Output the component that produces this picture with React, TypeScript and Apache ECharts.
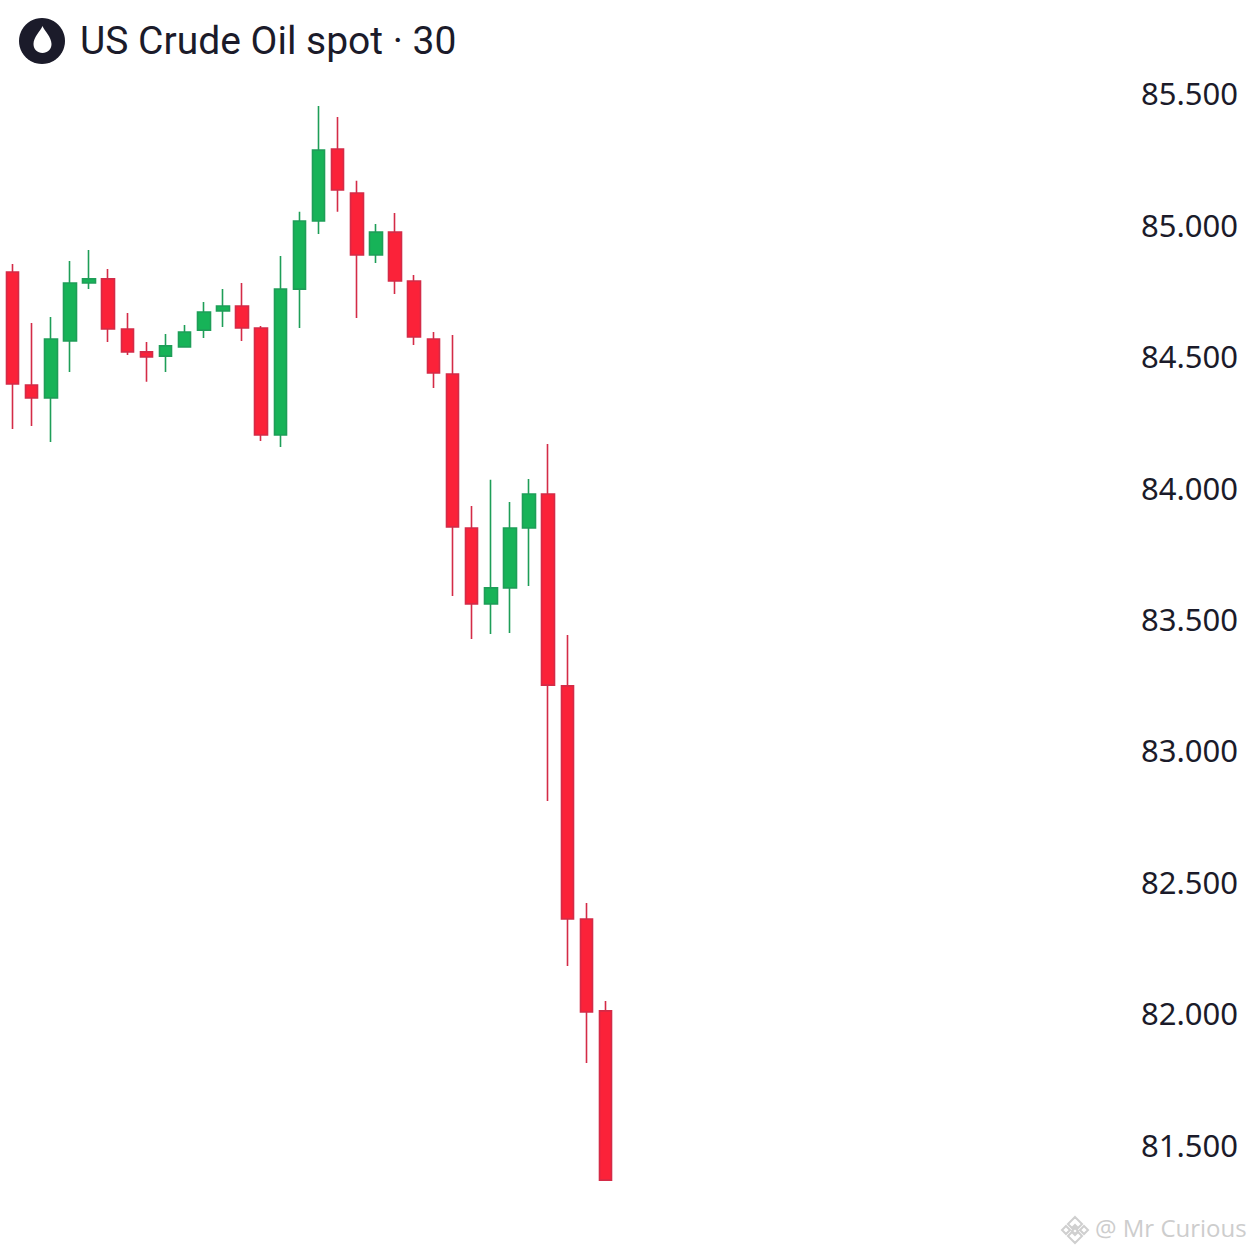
import React, { useEffect, useRef } from "react";
import * as echarts from "echarts";

const titleText = "US Crude Oil spot · 30";
const watermarkText = "@ Mr Curious";
const tickValues = [81.5, 82, 82.5, 83, 83.5, 84, 84.5, 85, 85.5];

const opens = [84.83, 84.4, 84.351, 84.568, 84.788, 84.804, 84.613, 84.526, 84.51, 84.545, 84.609, 84.682, 84.701, 84.617, 84.21, 84.765, 85.024, 85.298, 85.131, 84.895, 84.982, 84.796, 84.575, 84.442, 83.856, 83.567, 83.628, 83.856, 83.985, 83.255, 82.368, 82.018];
const closes = [84.404, 84.351, 84.575, 84.788, 84.804, 84.613, 84.526, 84.507, 84.549, 84.602, 84.678, 84.701, 84.617, 84.21, 84.765, 85.024, 85.294, 85.142, 84.895, 84.982, 84.796, 84.583, 84.446, 83.86, 83.567, 83.628, 83.856, 83.985, 83.258, 82.368, 82.014, 81.374];
const lows = [84.233, 84.244, 84.183, 84.45, 84.765, 84.564, 84.514, 84.412, 84.45, 84.545, 84.579, 84.621, 84.568, 84.187, 84.164, 84.617, 84.975, 85.059, 84.655, 84.864, 84.746, 84.552, 84.389, 83.597, 83.433, 83.452, 83.456, 83.635, 82.817, 82.189, 81.82, 81.371];
const highs = [84.861, 84.636, 84.659, 84.872, 84.914, 84.842, 84.674, 84.564, 84.594, 84.628, 84.716, 84.765, 84.788, 84.625, 84.891, 85.059, 85.462, 85.42, 85.177, 85.013, 85.055, 84.819, 84.602, 84.59, 83.94, 84.039, 83.955, 84.042, 84.176, 83.449, 82.429, 82.056];
const categories = opens.map((_, i) => String(i + 1));

const UP = "#17b358";
const DOWN = "#fb2239";
const INK = "#1b1b2a";

echarts.graphic.registerShape(
  "oilDrop",
  echarts.graphic.extendPath("M10 0 C12 5 19 11 19 18 C19 23.5 15 27 10 27 C5 27 1 23.5 1 18 C1 11 8 5 10 0 Z", {})
);
echarts.graphic.registerShape(
  "markLogo",
  echarts.graphic.extendPath(
    "M14 1 L21 8 L17 12 L14 9 L11 12 L7 8 Z M5 10 L9 14 L5 18 L1 14 Z M23 10 L27 14 L23 18 L19 14 Z M14 12 L17 15 L14 18 L11 15 Z M7 20 L11 16 L14 19 L17 16 L21 20 L14 27 Z",
    {}
  )
);

export default function App() {
  const ref = useRef<HTMLDivElement>(null);
  useEffect(() => {
    const chart = echarts.init(ref.current!, null, { renderer: "svg" });
    chart.setOption({
      animation: false,
      backgroundColor: "#ffffff",
      title: {
        text: titleText,
        left: 75,
        top: 16,
        textStyle: { fontFamily: "Roboto", fontSize: 39, fontWeight: "normal", color: INK },
      },
      grid: { left: 2.94, top: 30.3, width: 1128.67, height: 1182.4, show: false },
      xAxis: {
        type: "category",
        data: categories,
        max: 58,
        show: false,
        boundaryGap: true,
      },
      yAxis: {
        type: "value",
        position: "right",
        min: 81.25,
        max: 85.75,
        scale: true,
        splitLine: { show: false },
        axisLine: { show: false },
        axisTick: { show: false },
        axisLabel: {
          customValues: tickValues,
          margin: 9.4,
          formatter: (v: number) => `{tick|${v.toFixed(3)}}`,
          rich: {
            tick: {
              fontFamily: "Noto Sans",
              fontSize: 31,
              color: INK,
              padding: [0, 0, 5, 0],
            },
          },
        },
      },
      series: [
        {
          type: "candlestick",
          silent: true,
          barWidth: 13,
          clip: false,
          data: opens.map((o, i) => [o, closes[i], lows[i], highs[i]]),
          itemStyle: {
            color: UP,
            color0: DOWN,
            borderColor: "#1e9e58",
            borderColor0: "#d42b47",
            borderWidth: 1.6,
          },
        },
      ],
      graphic: [
        { type: "circle", shape: { cx: 42, cy: 41, r: 23 }, style: { fill: INK }, silent: true },
        { type: "oilDrop", x: 32.5, y: 26, style: { fill: "#ffffff" }, silent: true },
        {
          type: "markLogo",
          x: 1061,
          y: 1216,
          style: { fill: "none", stroke: "#cfcfcf", lineWidth: 2 },
          silent: true,
        },
        {
          type: "text",
          x: 1095,
          y: 1215,
          style: {
            text: watermarkText,
            fontFamily: "Open Sans",
            fontSize: 24,
            fill: "#cdcdcd",
          },
          silent: true,
        },
      ],
    });
    return () => chart.dispose();
  }, []);
  return <div ref={ref} style={{ position: "absolute", left: 0, top: 0, width: 1254, height: 1254 }} />;
}
